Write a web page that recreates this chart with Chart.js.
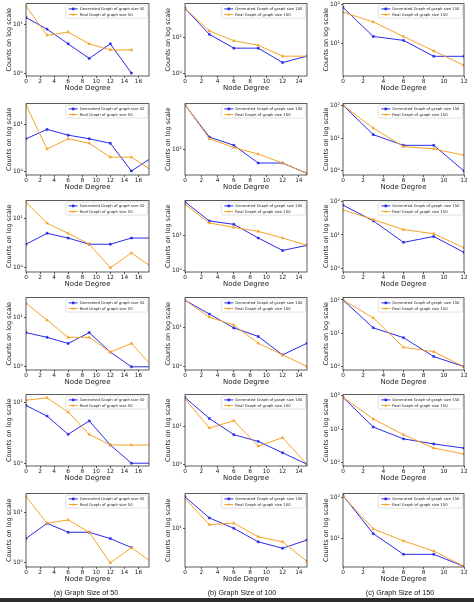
<!DOCTYPE html>
<html>
<head>
<meta charset="utf-8">
<script src="https://cdn.jsdelivr.net/npm/chart.js@4.4.1/dist/chart.umd.min.js"></script>
<style>
  html, body { margin: 0; padding: 0; background: #fff; }
  #page { position: relative; width: 474px; height: 602px; overflow: hidden; }
  #page canvas { position: absolute; }
  .caption { position: absolute; top: 588px; width: 140px; line-height: 10px; text-align: center;
             font: 7.2px "Liberation Sans", Arial, sans-serif; color: #111; will-change: transform; }
  #footerBar { position: absolute; left: 0; top: 598px; width: 474px; height: 4px; background: #2e2e2e; }
</style>
</head>
<body>
<div id="page">
  <div class="caption" style="left:16px">(a) Graph Size of 50</div>
  <div class="caption" style="left:172px">(b) Graph Size of 100</div>
  <div class="caption" style="left:330px">(c) Graph Size of 150</div>
  <div id="footerBar"></div>
</div>
<script>
// node degree bins per graph size
const degrees50 = [0, 3, 6, 9, 12, 15, 18];
const degrees100 = [0, 3, 6, 9, 12, 15];
const degrees150 = [0, 3, 6, 9, 12];

// counts, one row per subplot (top to bottom)
const generated50 = [
  [14, 8, 4, 2, 4, 1],
  [5, 8, 6, 5, 4, 1, 2],
  [3, 5, 4, 3, 3, 4, 4],
  [5, 4, 3, 5, 2, 1, 1],
  [9, 6, 3, 5, 2, 1, 1],
  [3, 6, 4, 4, 3, 2],
];
const real50 = [
  [24, 6, 7, 4, 3, 3],
  [27, 3, 5, 4, 2, 2, 1],
  [21, 8, 5, 3, 1, 2, 1],
  [20, 9, 4, 4, 2, 3, 1],
  [11, 12, 7, 3, 2, 2, 2],
  [20, 6, 7, 4, 1, 2, 1],
];
const generated100 = [
  [63, 12, 5, 5, 2, 3],
  [58, 16.5, 12, 6, 6, 4],
  [90, 25.7, 20.6, 8.4, 3.7, 5.2],
  [52, 22.8, 10, 6, 2, 4],
  [57, 16, 6, 4, 2, 1],
  [50, 17, 10, 5, 3.6, 5.5],
];
const real100 = [
  [63, 15, 8, 6, 3, 3],
  [58, 15.5, 11, 8.5, 6, 4],
  [77, 22.5, 16.9, 13, 8.4, 5.2],
  [52, 19, 11.8, 4, 2, 1],
  [52, 9, 14, 3, 5, 1],
  [46, 12, 13, 6.5, 5, 1.84],
];
const generated150 = [
  [86, 15.5, 12.3, 4.8, 4.8],
  [100, 12.7, 6, 6, 1],
  [79, 26.7, 6, 9, 3],
  [100, 14.6, 7.4, 2, 1],
  [89, 11.5, 5.1, 3.6, 2.7],
  [115, 13, 4, 4, 2],
];
const real150 = [
  [65, 36.5, 15.5, 6.6, 2.8],
  [100, 20, 5.5, 4.7, 3],
  [57, 29, 14.5, 10.9, 4.1],
  [100, 29, 3.8, 2.8, 1],
  [89, 20, 6.8, 2.7, 1.8],
  [111, 17, 8.6, 4.8, 2],
];

// y-axis limits [min, max] per subplot
const yLimits50 = [[0.87, 27], [0.82, 29], [0.82, 23], [0.86, 26], [0.9, 13.6], [0.83, 23]];
const yLimits100 = [[0.85, 85], [3.76, 61], [0.9, 98], [0.81, 61], [0.9, 68], [1.38, 59]];
const yLimits150 = [[1.5, 108], [0.75, 112], [0.77, 108], [0.79, 118], [0.79, 107], [1.94, 128]];

const xTicks50 = [0, 2, 4, 6, 8, 10, 12, 14, 16];
const xTicks100 = [0, 2, 4, 6, 8, 10, 12, 14];
const xTicks150 = [0, 2, 4, 6, 8, 10, 12];
const yTickValues = [1, 10, 100];
const yTickLabels = ["10⁰", "10¹", "10²"];

const BLUE = "#2b2bea";
const ORANGE = "#f5a32a";
const INK = "#222";
const Y_AXIS_W = 21, X_AXIS_H = 16, PAD_TOP = 4, PAD_RIGHT = 6;

const columns = [
  { size: 50, degrees: degrees50, gen: generated50, real: real50, yLimits: yLimits50, xTicks: xTicks50, xMax: 17.5, left: 26, width: 123 },
  { size: 100, degrees: degrees100, gen: generated100, real: real100, yLimits: yLimits100, xTicks: xTicks100, xMax: 15, left: 185, width: 122 },
  { size: 150, degrees: degrees150, gen: generated150, real: real150, yLimits: yLimits150, xTicks: xTicks150, xMax: 12, left: 343, width: 121 },
];
const rowTops = [3, 103, 200, 297, 394, 493];
const rowHeights = [73, 72, 72, 73, 72, 74];

// matplotlib-style box round the axes
const framePlugin = {
  id: "frame",
  afterDatasetsDraw(chart) {
    const { ctx, chartArea: a } = chart;
    ctx.save();
    ctx.strokeStyle = "#333";
    ctx.lineWidth = 0.8;
    ctx.strokeRect(a.left, a.top, a.right - a.left, a.bottom - a.top);
    ctx.restore();
  },
};

// legend drawn inside the plot, top right
const insetLegendPlugin = {
  id: "insetLegend",
  afterDatasetsDraw(chart) {
    const { ctx, chartArea: a } = chart;
    const sets = chart.data.datasets;
    ctx.save();
    ctx.font = '3.8px "DejaVu Sans"';
    const textW = Math.max(...sets.map((d) => ctx.measureText(d.label).width));
    const w = 3 + 9 + 2 + textW + 3;
    const h = 13;
    const x0 = a.right - w - 1.5;
    const y0 = a.top + 1.5;
    ctx.fillStyle = "rgba(255,255,255,0.85)";
    ctx.strokeStyle = "#cfcfcf";
    ctx.lineWidth = 0.6;
    ctx.beginPath();
    ctx.roundRect(x0, y0, w, h, 1.5);
    ctx.fill();
    ctx.stroke();
    sets.forEach((d, i) => {
      const cy = y0 + 3.8 + i * 5.6;
      ctx.strokeStyle = d.borderColor;
      ctx.lineWidth = 1;
      ctx.beginPath();
      ctx.moveTo(x0 + 3, cy);
      ctx.lineTo(x0 + 12, cy);
      ctx.stroke();
      ctx.fillStyle = d.borderColor;
      const mx = x0 + 7.5;
      if (d.pointStyle === "rect") {
        ctx.fillRect(mx - 1.3, cy - 1.3, 2.6, 2.6);
      } else {
        ctx.beginPath();
        ctx.moveTo(mx, cy - 1.6);
        ctx.lineTo(mx + 1.5, cy + 1.1);
        ctx.lineTo(mx - 1.5, cy + 1.1);
        ctx.closePath();
        ctx.fill();
      }
      ctx.fillStyle = INK;
      ctx.textBaseline = "middle";
      ctx.fillText(d.label, x0 + 14, cy + 0.2);
    });
    ctx.restore();
  },
};

const page = document.getElementById("page");

function renderPanel(col, row) {
  const plot = { left: col.left, top: rowTops[row], width: col.width, height: rowHeights[row] };
  const canvas = document.createElement("canvas");
  canvas.width = plot.width + Y_AXIS_W + PAD_RIGHT;
  canvas.height = plot.height + PAD_TOP + X_AXIS_H;
  canvas.style.left = `${plot.left - Y_AXIS_W}px`;
  canvas.style.top = `${plot.top - PAD_TOP}px`;
  page.appendChild(canvas);

  const toPoints = (values) => values.map((v, i) => ({ x: col.degrees[i], y: v }));
  const [yMin, yMax] = col.yLimits[row];
  const tickGrid = { display: true, drawOnChartArea: false, drawTicks: true, tickLength: 2, color: "#333", lineWidth: 0.8 };

  new Chart(canvas, {
    type: "line",
    data: {
      datasets: [
        {
          label: `Generated Graph of graph size ${col.size}`,
          data: toPoints(col.gen[row]),
          borderColor: BLUE, backgroundColor: BLUE,
          borderWidth: 1, pointStyle: "rect", pointRadius: 1.4, pointBorderWidth: 0.5,
          order: 1,
        },
        {
          label: `Real Graph of graph size ${col.size}`,
          data: toPoints(col.real[row]),
          borderColor: ORANGE, backgroundColor: ORANGE,
          borderWidth: 1, pointStyle: "triangle", pointRadius: 1.6, pointBorderWidth: 0.5,
          order: 0,
        },
      ],
    },
    options: {
      responsive: false,
      animation: false,
      events: [],
      layout: { padding: { top: PAD_TOP, right: PAD_RIGHT, left: 0, bottom: 0 } },
      plugins: { legend: { display: false }, tooltip: { enabled: false } },
      scales: {
        x: {
          type: "linear",
          min: 0,
          max: col.xMax,
          afterBuildTicks: (s) => { s.ticks = col.xTicks.map((v) => ({ value: v })); },
          afterFit: (s) => { s.height = X_AXIS_H; },
          grid: tickGrid,
          border: { display: false },
          ticks: { font: { family: "DejaVu Sans", size: 5.8 }, color: INK, padding: 0, maxRotation: 0, autoSkip: false },
          title: { display: true, text: "Node Degree", font: { family: "DejaVu Sans", size: 7 }, color: INK, padding: 0 },
        },
        y: {
          type: "logarithmic",
          min: yMin,
          max: yMax,
          afterBuildTicks: (s) => {
            s.ticks = yTickValues.filter((v) => v >= s.min && v <= s.max).map((v) => ({ value: v, major: true }));
          },
          afterFit: (s) => { s.width = Y_AXIS_W; },
          grid: tickGrid,
          border: { display: false },
          ticks: {
            font: { family: "DejaVu Sans", size: 6 }, color: INK, padding: 1,
            callback: (v) => yTickLabels[yTickValues.indexOf(v)] ?? "",
          },
          title: { display: true, text: "Counts on log scale", font: { family: "DejaVu Sans", size: 6.5 }, color: INK, padding: 0 },
        },
      },
    },
    plugins: [framePlugin, insetLegendPlugin],
  });
}

columns.forEach((col) => {
  rowTops.forEach((_, row) => renderPanel(col, row));
});
</script>
</body>
</html>
